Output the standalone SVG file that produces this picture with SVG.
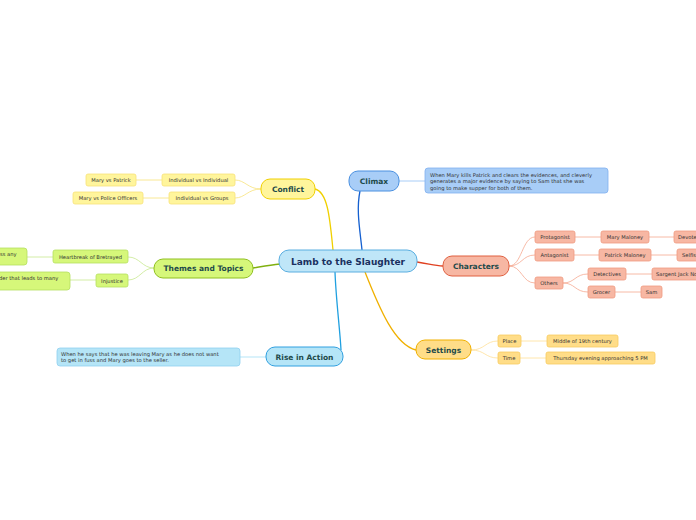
<svg xmlns="http://www.w3.org/2000/svg" width="696" height="520" viewBox="0 0 696 520">
<style>
text{font-family:"DejaVu Sans","Liberation Sans",sans-serif;fill:#333}
.m{font-size:7.5px;font-weight:bold;fill:#1d4a4a;text-anchor:middle}
.s{font-size:5.2px;text-anchor:middle}
.d{font-size:5.2px}
.c path{fill:none}
.y rect{fill:#fff59c;stroke:#f7e27a;stroke-width:.8}
.g rect{fill:#d6f77a;stroke:#b5e060;stroke-width:.8}
.r rect{fill:#f7b7a3;stroke:#f09a80;stroke-width:.8}
.o rect{fill:#ffdd88;stroke:#f7cc60;stroke-width:.8}
</style>
<rect width="696" height="520" fill="#fff"/>
<g class="c">
<path d="M315,189 C328,192 330,220 333,250" stroke="#f0d000" stroke-width="1.3"/>
<path d="M360,191 C356,210 360,230 362,250" stroke="#1560d0" stroke-width="1.3"/>
<path d="M253,268 C265,266 270,265 280,264" stroke="#80b010" stroke-width="1.3"/>
<path d="M417,262 C430,264 435,266 443,266" stroke="#e04020" stroke-width="1.3"/>
<path d="M365,272 C380,310 395,345 416,350" stroke="#f0b000" stroke-width="1.3"/>
<path d="M335,272 C336,300 340,330 341,350" stroke="#20a0e0" stroke-width="1.3"/>
<path d="M399,181 L425,181" stroke="#a8cdf7"/>
<path d="M266,357 L240,357" stroke="#b5e5f7"/>
<g stroke="#f7e27a" stroke-width=".8">
<path d="M261,189 C248,189 245,180 235,180"/><path d="M261,189 C248,189 245,198 235,198"/>
<path d="M162,180 L136,180"/><path d="M169,198 L143,198"/></g>
<g stroke="#c8e890" stroke-width=".8">
<path d="M154,268 C142,268 140,257 128,257"/><path d="M154,268 C142,268 140,280 128,280"/>
<path d="M53,257 L27,257"/><path d="M96,280 L70,280"/></g>
<g stroke="#f5a890" stroke-width=".8">
<path d="M509,266 C522,266 522,237 535,237"/><path d="M509,266 C522,266 522,255 535,255"/><path d="M509,266 C522,266 522,283 535,283"/>
<path d="M575,237 L601,237"/><path d="M649,237 L674,237"/>
<path d="M574,255 L599,255"/><path d="M651,255 L677,255"/>
<path d="M563,283 C575,283 575,274 588,274"/><path d="M563,283 C575,283 575,292 588,292"/>
<path d="M626,274 L652,274"/><path d="M615,292 L641,292"/></g>
<g stroke="#ffe098" stroke-width=".8">
<path d="M471,350 C485,350 485,341 498,341"/><path d="M471,350 C485,350 485,358 498,358"/>
<path d="M521,341 L547,341"/><path d="M520,358 L546,358"/></g>
</g>
<g id="center"><rect x="279" y="250" width="138" height="22" rx="10" fill="#bfe6f8" stroke="#5aaee0"/><text x="348" y="265" class="m" style="font-size:9px;fill:#1a3060">Lamb to the Slaughter</text></g>
<g id="conflict"><rect x="261" y="179" width="54" height="20" rx="9" fill="#fff59c" stroke="#f0d000"/><text x="288" y="191.5" class="m">Conflict</text></g>
<g id="climax"><rect x="349" y="171" width="50" height="20" rx="9" fill="#a8cdf7" stroke="#4a90e0"/><text x="374" y="183.5" class="m">Climax</text></g>
<g id="climaxd"><rect x="425" y="168" width="183" height="25" rx="3" fill="#a8cdf7" stroke="#80b0f0" stroke-width=".8"/><text x="430" y="176.5" class="d">When Mary kills Patrick and clears the evidences, and cleverly</text><text x="430" y="183" class="d">generates a major evidence by saying to Sam that she was</text><text x="430" y="189.5" class="d">going to make supper for both of them.</text></g>
<g id="themes"><rect x="154" y="259" width="99" height="19" rx="9" fill="#d6f77a" stroke="#90c020"/><text x="203.5" y="271" class="m">Themes and Topics</text></g>
<g id="characters"><rect x="443" y="256" width="66" height="20" rx="9" fill="#f7b7a3" stroke="#e06040"/><text x="476" y="268.5" class="m">Characters</text></g>
<g id="settings"><rect x="416" y="340" width="55" height="19" rx="9" fill="#ffdd88" stroke="#f0b000"/><text x="443.5" y="352.5" class="m">Settings</text></g>
<g id="rise"><rect x="266" y="347" width="77" height="19" rx="9" fill="#b5e5f7" stroke="#30a0e0"/><text x="304.5" y="359.5" class="m">Rise in Action</text></g>
<g id="rised"><rect x="57" y="348" width="183" height="18" rx="3" fill="#b5e5f7" stroke="#90d0f0" stroke-width=".8"/><text x="61" y="355.5" class="d">When he says that he was leaving Mary as he does not want</text><text x="61" y="362" class="d">to get in fuss and Mary goes to the seller.</text></g>
<g id="c1" class="y"><rect x="162" y="174" width="73" height="12" rx="2"/><text x="198.5" y="182" class="s">Individual vs Individual</text></g>
<g id="c2" class="y"><rect x="86" y="174" width="50" height="12" rx="2"/><text x="111" y="182" class="s">Mary vs Patrick</text></g>
<g id="c3" class="y"><rect x="169" y="192" width="66" height="12" rx="2"/><text x="202" y="200" class="s">Individual vs Groups</text></g>
<g id="c4" class="y"><rect x="73" y="192" width="70" height="12" rx="2"/><text x="108" y="200" class="s">Mary vs Police Officers</text></g>
<g id="t1" class="g"><rect x="53" y="250" width="75" height="13" rx="2"/><text x="90.5" y="258.5" class="s">Heartbreak of Bretrayed</text></g>
<g id="t2" class="g"><rect x="-10" y="248" width="37" height="17" rx="3"/><text x="0" y="255.5" class="d">ss any</text></g>
<g id="t3" class="g"><rect x="96" y="274" width="32" height="13" rx="2"/><text x="112" y="282.5" class="s">Injustice</text></g>
<g id="t4" class="g"><rect x="-10" y="272" width="80" height="18" rx="3"/><text x="-1" y="279.5" class="d">der that leads to many</text></g>
<g id="h1" class="r"><rect x="535" y="231" width="40" height="12" rx="2"/><text x="555" y="239" class="s">Protagonist</text></g>
<g id="h2" class="r"><rect x="601" y="231" width="48" height="12" rx="2"/><text x="625" y="239" class="s">Mary Maloney</text></g>
<g id="h3" class="r"><rect x="674" y="231" width="40" height="12" rx="2"/><text x="678" y="239" class="d">Devoted</text></g>
<g id="h4" class="r"><rect x="535" y="249" width="39" height="12" rx="2"/><text x="554.5" y="257" class="s">Antagonist</text></g>
<g id="h5" class="r"><rect x="599" y="249" width="52" height="12" rx="2"/><text x="625" y="257" class="s">Patrick Maloney</text></g>
<g id="h6" class="r"><rect x="677" y="249" width="40" height="12" rx="2"/><text x="682" y="257" class="d">Selfish</text></g>
<g id="h7" class="r"><rect x="535" y="277" width="28" height="12" rx="2"/><text x="549" y="285" class="s">Others</text></g>
<g id="h8" class="r"><rect x="588" y="268" width="38" height="12" rx="2"/><text x="607" y="276" class="s">Detectives</text></g>
<g id="h9" class="r"><rect x="652" y="268" width="60" height="12" rx="2"/><text x="656" y="276" class="d">Sargent Jack Noonan</text></g>
<g id="h10" class="r"><rect x="588" y="286" width="27" height="12" rx="2"/><text x="601.5" y="294" class="s">Grocer</text></g>
<g id="h11" class="r"><rect x="641" y="286" width="21" height="12" rx="2"/><text x="651.5" y="294" class="s">Sam</text></g>
<g id="s1" class="o"><rect x="498" y="335" width="23" height="12" rx="2"/><text x="509.5" y="343" class="s">Place</text></g>
<g id="s2" class="o"><rect x="547" y="335" width="71" height="12" rx="2"/><text x="582.5" y="343" class="s">Middle of 19th century</text></g>
<g id="s3" class="o"><rect x="498" y="352" width="22" height="12" rx="2"/><text x="509" y="360" class="s">Time</text></g>
<g id="s4" class="o"><rect x="546" y="352" width="109" height="12" rx="2"/><text x="600.5" y="360" class="s">Thursday evening approaching 5 PM</text></g>
</svg>
